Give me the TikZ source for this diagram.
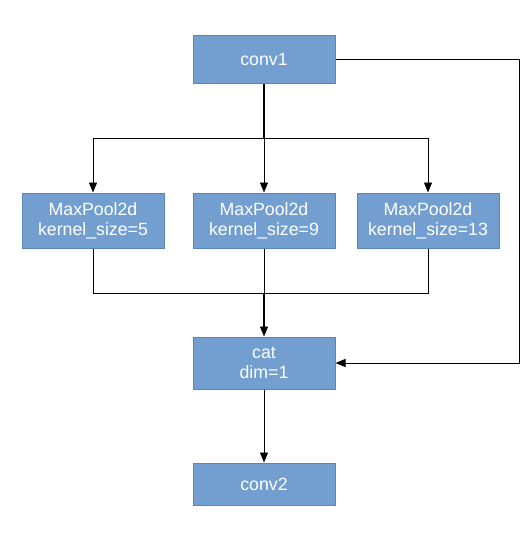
\documentclass[tikz,border=0pt]{standalone}
\usepackage{fontspec}
\setmainfont{Liberation Sans}
\usetikzlibrary{arrows.meta}
\definecolor{boxfill}{HTML}{729FCF}
\definecolor{boxline}{HTML}{5A85B8}
\tikzset{
  block/.style={rectangle,draw=boxline,fill=boxfill,line width=0.75pt,text=white,align=center,
    minimum width=106.5pt,font=\fontsize{13.3}{15}\selectfont,inner sep=0pt},
  link/.style={line width=0.7pt,-{Triangle[length=7.5pt,width=6pt]}},
  plain/.style={line width=0.7pt},
  trunk/.style={line width=1.4pt}
}
\begin{document}
\begin{tikzpicture}[x=0.75pt,y=-0.75pt]
\useasboundingbox (0,0) rectangle (527,539);
\node[block,minimum height=36pt] (conv1) at (264,59) {conv1};
\node[block,minimum height=41.25pt] (pool5) at (93,220.5) {MaxPool2d\\kernel\_size=5};
\node[block,minimum height=41.25pt] (pool9) at (264,220.5) {MaxPool2d\\kernel\_size=9};
\node[block,minimum height=41.25pt] (pool13) at (428,220.5) {MaxPool2d\\kernel\_size=13};
\node[block,minimum height=39pt] (cat) at (264,363) {cat\\dim=1};
\node[block,minimum height=31.5pt] (conv2) at (264,484) {conv2};

\coordinate (split) at (264,138);
\coordinate (merge) at (264,293);
\coordinate (skip) at (519,59);

% fan out
\draw[trunk] (conv1) -- (split);
\draw[link] (split) -- (pool9);
\draw[link] (split) -| (pool5);
\draw[link] (split) -| (pool13);
% fan in
\draw[plain] (pool5) |- (merge);
\draw[plain] (pool13) |- (merge);
\draw[plain] (pool9) -- (merge);
\draw[trunk] (merge) -- ([yshift=4pt]cat.north);
\draw[link] (merge) -- (cat);
\draw[link] (conv1.east) -- (skip) |- (cat.east);
\draw[link] (cat) -- (conv2);
\end{tikzpicture}
\end{document}
